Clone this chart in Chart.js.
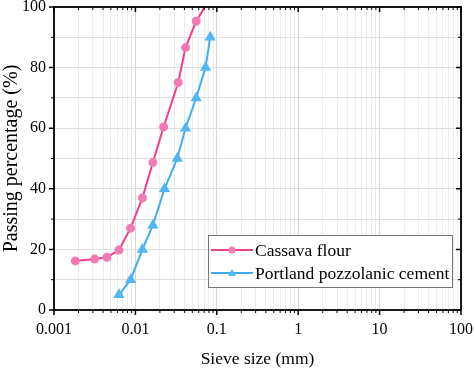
<!DOCTYPE html>
<html><head><meta charset="utf-8">
<script src="https://cdn.jsdelivr.net/npm/chart.js@4/dist/chart.umd.min.js"></script>
<style>html,body{margin:0;padding:0;background:#fff}canvas{display:block}</style>
</head><body>
<canvas id="c" width="474" height="370"></canvas>
<script>
const seriesNames = ['Cassava flour', 'Portland pozzolanic cement'];
const cassavaSize = [0.00183, 0.00316, 0.00447, 0.00628, 0.00873, 0.0122, 0.0164, 0.0222, 0.0336, 0.0413, 0.0558, 0.0713];
const cassavaPassing = [16.2, 16.8, 17.4, 19.8, 27.0, 37.0, 48.7, 60.4, 75.1, 86.6, 95.3, 100];
const cementSize = [0.00628, 0.00873, 0.0122, 0.0164, 0.0228, 0.0327, 0.0413, 0.0558, 0.0727, 0.083];
const cementPassing = [5, 10, 20, 28, 40, 50, 60, 70, 80, 90];
const xDecades = [0.001, 0.01, 0.1, 1, 10, 100];
const xTickLabels = ['0.001', '0.01', '0.1', '1', '10', '100'];
const yTickLabels = [0, 20, 40, 60, 80, 100];
const xTitle = 'Sieve size (mm)';
const yTitle = 'Passing percentage (%)';

const FONT = '"Liberation Serif", "Times New Roman", serif';
const PINK = '#ee3f8e', PINK_FILL = '#f27ab5';
const BLUE = '#3fadf0', BLUE_FILL = '#52b7f2';

function isDecade(v){ const l = Math.log10(v); return Math.abs(l - Math.round(l)) < 1e-9; }
function decadeLabel(v){
  for (let i = 0; i < xDecades.length; i++) if (Math.abs(xDecades[i] - v) / v < 1e-9) return xTickLabels[i];
  return '';
}

const pts = (xs, ys) => xs.map((v, i) => ({x: v, y: ys[i]}));

const framePlugin = {
  id: 'frame',
  afterDraw(chart) {
    const {ctx, chartArea: a, scales: {x, y}} = chart;
    ctx.save();
    ctx.strokeStyle = '#000';
    x.ticks.forEach(t => {
      const px = x.getPixelForValue(t.value);
      const major = isDecade(t.value);
      const L = major ? 5 : 3;
      ctx.lineWidth = major ? 1.5 : 1;
      ctx.beginPath();
      ctx.moveTo(px, a.bottom); ctx.lineTo(px, a.bottom + L);
      ctx.moveTo(px, a.top); ctx.lineTo(px, a.top + L);
      ctx.stroke();
    });
    y.ticks.forEach(t => {
      const py = y.getPixelForValue(t.value);
      const major = yTickLabels.includes(t.value);
      const L = major ? 5 : 3;
      ctx.lineWidth = major ? 1.5 : 1;
      ctx.beginPath();
      ctx.moveTo(a.left - L, py); ctx.lineTo(a.left, py);
      ctx.moveTo(a.right - L, py); ctx.lineTo(a.right, py);
      ctx.stroke();
    });
    ctx.lineWidth = 1.8;
    ctx.strokeRect(a.left, a.top, a.right - a.left, a.bottom - a.top);

    // legend
    const bw = 244, bh = 52;
    const bx = a.right - 253, by = a.bottom - 75;
    ctx.fillStyle = '#fff';
    ctx.fillRect(bx, by, bw, bh);
    ctx.strokeStyle = '#777';
    ctx.lineWidth = 1;
    ctx.strokeRect(bx + 0.5, by + 0.5, bw, bh);
    chart.data.datasets.forEach((ds, i) => {
      const cy = by + 15 + i * 23;
      const x0 = bx + 3, x1 = bx + 45, mx = (x0 + x1) / 2;
      ctx.strokeStyle = ds.borderColor;
      ctx.lineWidth = 2;
      ctx.beginPath(); ctx.moveTo(x0, cy); ctx.lineTo(x1, cy); ctx.stroke();
      ctx.fillStyle = ds.pointBackgroundColor;
      ctx.beginPath();
      if (ds.pointStyle === 'triangle') {
        ctx.moveTo(mx, cy - 4); ctx.lineTo(mx + 4, cy + 3); ctx.lineTo(mx - 4, cy + 3); ctx.closePath();
      } else {
        ctx.arc(mx, cy, 3.5, 0, Math.PI * 2);
      }
      ctx.fill();
      ctx.fillStyle = '#000';
      ctx.font = '17.5px ' + FONT;
      ctx.textBaseline = 'middle';
      ctx.textAlign = 'left';
      ctx.fillText(ds.label, x1 + 2, cy + 1);
    });
    ctx.restore();
  }
};

new Chart(document.getElementById('c'), {
  type: 'scatter',
  data: {
    datasets: [
      {
        label: seriesNames[0],
        data: pts(cassavaSize, cassavaPassing),
        showLine: true,
        borderColor: PINK, backgroundColor: PINK_FILL,
        pointBackgroundColor: PINK_FILL, pointBorderColor: PINK_FILL,
        pointStyle: 'circle',
        pointRadius: cassavaSize.map((v, i) => i === cassavaSize.length - 1 ? 0 : 3.5),
        borderWidth: 2, tension: 0
      },
      {
        label: seriesNames[1],
        data: pts(cementSize, cementPassing),
        showLine: true,
        borderColor: BLUE, backgroundColor: BLUE_FILL,
        pointBackgroundColor: BLUE_FILL, pointBorderColor: BLUE_FILL,
        pointStyle: 'triangle', pointRadius: 4.5,
        borderWidth: 2, tension: 0
      }
    ]
  },
  options: {
    responsive: false,
    animation: false,
    layout: {padding: {left: 0, right: 0, top: 0, bottom: 0}},
    plugins: {legend: {display: false}, tooltip: {enabled: false}},
    scales: {
      x: {
        type: 'logarithmic',
        min: 0.001, max: 100,
        afterBuildTicks(scale) {
          const t = [];
          xDecades.forEach(d => {
            if (d === 100) { t.push({value: 100}); return; }
            for (let m = 1; m <= 9; m++) t.push({value: +(d * m).toPrecision(6)});
          });
          scale.ticks = t;
        },
        afterFit(scale) { scale.height = 60; scale.paddingLeft = 0; scale.paddingRight = 13; },
        ticks: {
          autoSkip: false, maxRotation: 0, padding: 10,
          font: {family: FONT, size: 16}, color: '#000',
          callback: (v) => isDecade(v) ? decadeLabel(v) : ''
        },
        grid: {
          drawTicks: false,
          color: (c) => c.tick && isDecade(c.tick.value) ? '#d6d6d6' : '#ececec',
          lineWidth: 1
        },
        border: {display: false},
        title: {display: true, text: xTitle, font: {family: FONT, size: 17.5}, color: '#000', padding: {top: 10, bottom: 0}}
      },
      y: {
        min: 0, max: 100,
        afterBuildTicks(scale) {
          const t = [];
          for (let v = 0; v <= 100; v += 10) t.push({value: v});
          scale.ticks = t;
        },
        afterFit(scale) { scale.width = 54; scale.paddingTop = 7; scale.paddingBottom = 0; },
        ticks: {
          autoSkip: false, padding: 8,
          font: {family: FONT, size: 16}, color: '#000',
          callback: (v) => yTickLabels.includes(v) ? String(v) : ''
        },
        grid: {drawTicks: false, color: '#e0e0e0', lineWidth: 1},
        border: {display: false},
        title: {display: true, text: yTitle, font: {family: FONT, size: 20}, color: '#000', padding: {top: 0, bottom: 2}}
      }
    }
  },
  plugins: [framePlugin]
});
</script>
</body></html>
